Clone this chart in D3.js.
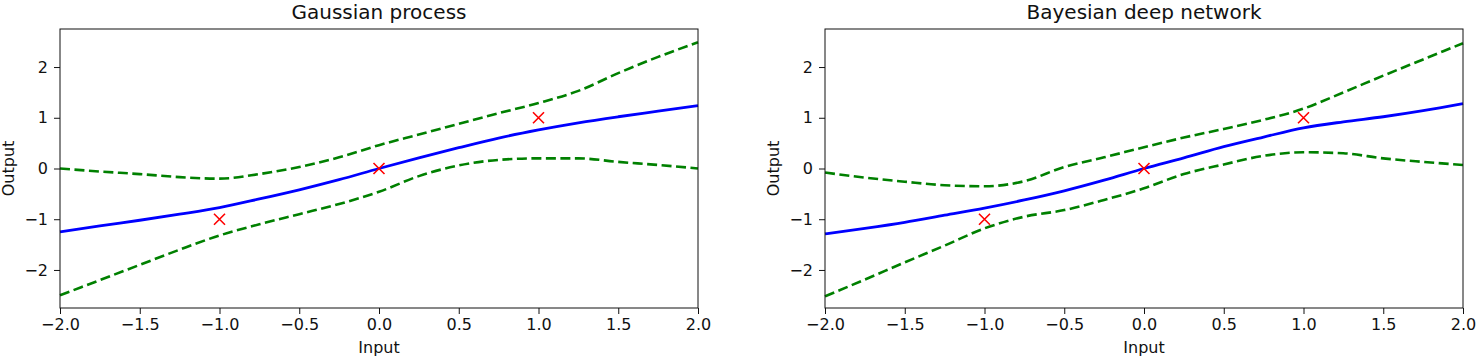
<!DOCTYPE html>
<html lang="en">
<head>
    <meta charset="UTF-8">
    <title>Gaussian process vs Bayesian deep network</title>
    <script src="https://cdnjs.cloudflare.com/ajax/libs/d3/7.8.5/d3.min.js"></script>
    <style>
        body {
            margin: 0;
            background-color: white;
            font-family: "DejaVu Sans", sans-serif;
        }
        .axis-label {
            font-size: 16px;
            fill: #111;
        }
        .title {
            font-size: 20px;
            fill: #111;
        }
    </style>
</head>
<body>
    <svg id="chart" width="1478" height="359"></svg>

    <script>
        // inputs shared by both panels
        const xs = [-2, -1.75, -1.5, -1.25, -1, -0.75, -0.5, -0.25, 0, 0.25, 0.5, 0.75, 1, 1.25, 1.5, 1.75, 2];

        // Gaussian process
        const gpMean  = [-1.25, -1.13, -1.02, -0.9, -0.77, -0.6, -0.42, -0.22, 0, 0.21, 0.41, 0.6, 0.76, 0.9, 1.02, 1.13, 1.24];
        const gpUpper = [0, -0.06, -0.11, -0.17, -0.2, -0.11, 0.03, 0.22, 0.46, 0.67, 0.88, 1.09, 1.29, 1.53, 1.88, 2.2, 2.49];
        const gpLower = [-2.5, -2.2, -1.9, -1.6, -1.32, -1.1, -0.9, -0.7, -0.46, -0.15, 0.06, 0.17, 0.2, 0.2, 0.13, 0.07, 0];

        // Bayesian deep network
        const bnnMean  = [-1.29, -1.18, -1.06, -0.92, -0.78, -0.62, -0.44, -0.23, 0, 0.21, 0.43, 0.62, 0.8, 0.92, 1.02, 1.14, 1.28];
        const bnnUpper = [-0.08, -0.18, -0.26, -0.33, -0.35, -0.25, 0.03, 0.22, 0.42, 0.61, 0.78, 0.96, 1.18, 1.5, 1.83, 2.15, 2.47];
        const bnnLower = [-2.52, -2.19, -1.85, -1.52, -1.18, -0.95, -0.82, -0.62, -0.39, -0.11, 0.08, 0.25, 0.32, 0.3, 0.2, 0.13, 0.07];

        // training points
        const obsX = [-1, 0, 1];
        const obsY = [-1, 0, 1];

        const xTicks = [-2, -1.5, -1, -0.5, 0, 0.5, 1, 1.5, 2];
        const yTicks = [-2, -1, 0, 1, 2];

        const panels = [
            { title: "Gaussian process", left: 60, mean: gpMean, upper: gpUpper, lower: gpLower },
            { title: "Bayesian deep network", left: 825, mean: bnnMean, upper: bnnUpper, lower: bnnLower }
        ];

        const svg = d3.select("#chart");
        const plotW = 638, plotTop = 29, plotBottom = 308;

        panels.forEach(p => {
            const x = d3.scaleLinear().domain([-2, 2]).range([p.left, p.left + plotW]);
            const y = d3.scaleLinear().domain([-2.75, 2.75]).range([plotBottom, plotTop]);
            const g = svg.append("g");

            const line = d3.line()
                .x((d, i) => x(xs[i]))
                .y(d => y(d))
                .curve(d3.curveMonotoneX);

            // bands
            [p.upper, p.lower].forEach(arr => {
                g.append("path")
                    .attr("d", line(arr))
                    .attr("fill", "none")
                    .attr("stroke", "#008000")
                    .attr("stroke-width", 2.6)
                    .attr("stroke-dasharray", "10,4.5");
            });

            // mean
            g.append("path")
                .attr("d", line(p.mean))
                .attr("fill", "none")
                .attr("stroke", "#0000ff")
                .attr("stroke-width", 2.8);

            // observations as red crosses
            const s = 5.5;
            obsX.forEach((ox, i) => {
                const cx = x(ox), cy = y(obsY[i]);
                g.append("path")
                    .attr("d", `M${cx - s},${cy - s}L${cx + s},${cy + s}M${cx - s},${cy + s}L${cx + s},${cy - s}`)
                    .attr("stroke", "#ff0000")
                    .attr("stroke-width", 1.6);
            });

            // axes
            const xAxis = g.append("g")
                .attr("transform", `translate(0,${plotBottom})`)
                .call(d3.axisBottom(x).tickValues(xTicks).tickSize(6).tickPadding(5)
                    .tickFormat(d => d3.format(".1f")(d).replace("-", "\u2212")));
            const yAxis = g.append("g")
                .attr("transform", `translate(${p.left},0)`)
                .call(d3.axisLeft(y).tickValues(yTicks).tickSize(6).tickPadding(6)
                    .tickFormat(d => String(d).replace("-", "\u2212")));
            [xAxis, yAxis].forEach(a => {
                a.attr("font-size", 16).attr("font-family", "DejaVu Sans, sans-serif");
                a.select(".domain").remove();
                a.selectAll(".tick line").attr("stroke", "#111");
                a.selectAll(".tick text")
                    .style("font-size", "16px")
                    .style("font-family", "'DejaVu Sans', sans-serif")
                    .attr("fill", "#111");
            });

            // frame
            g.append("rect")
                .attr("x", p.left).attr("y", plotTop)
                .attr("width", plotW).attr("height", plotBottom - plotTop)
                .attr("fill", "none")
                .attr("stroke", "#111")
                .attr("stroke-width", 1);

            g.append("text")
                .attr("class", "title")
                .attr("x", p.left + plotW / 2).attr("y", 19)
                .attr("text-anchor", "middle")
                .text(p.title);

            g.append("text")
                .attr("class", "axis-label")
                .attr("x", p.left + plotW / 2).attr("y", 353)
                .attr("text-anchor", "middle")
                .text("Input");

            g.append("text")
                .attr("class", "axis-label")
                .attr("transform", `translate(${p.left - 46},${(plotTop + plotBottom) / 2}) rotate(-90)`)
                .attr("text-anchor", "middle")
                .text("Output");
        });
    </script>
</body>
</html>
